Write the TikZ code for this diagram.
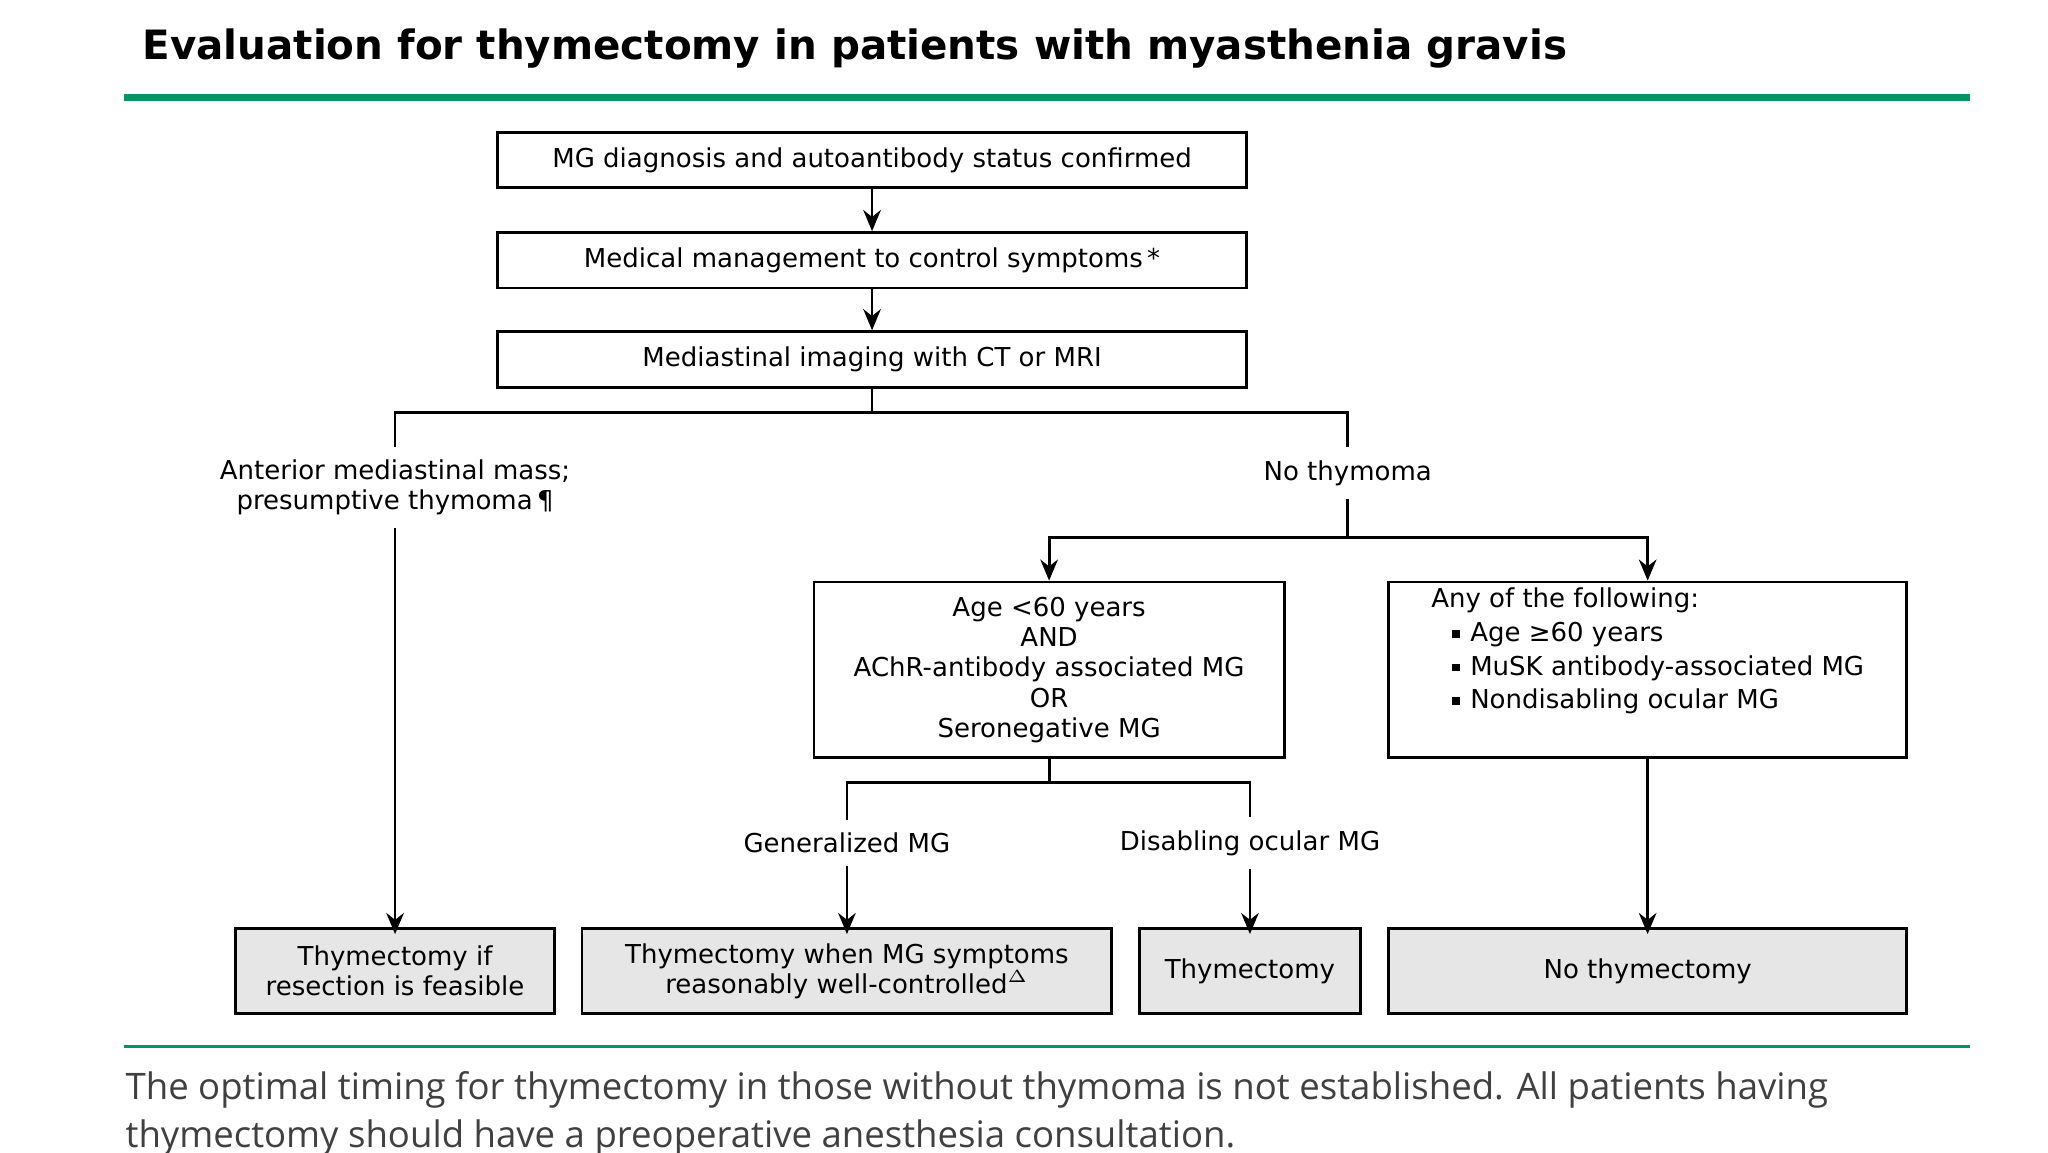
\documentclass[tikz,border=0pt]{standalone}
\usepackage{fontspec}
\setmainfont{DejaVu Sans}
\newfontfamily\footfont{Open Sans}
\usetikzlibrary{arrows.meta}
\definecolor{mggreen}{RGB}{0,150,100}
\definecolor{mggray}{RGB}{230,230,230}
\tikzset{
  box/.style   = {draw,thick,inner sep=0pt,align=center,font=\fontsize{7.4}{8.6}\selectfont},
  endbox/.style= {box,fill=mggray},
  lbl/.style   = {align=center,font=\fontsize{7.4}{8.6}\selectfont},
  flow/.style  = {thick,-{Stealth[length=6pt,width=5pt]}},
}
\begin{document}
\begin{tikzpicture}[x=0.01321cm,y=-0.01321cm,thick]
\useasboundingbox (0,0) rectangle (1550,872);

% title and rules
\node[anchor=west,font=\fontsize{11.5}{13}\selectfont\bfseries] (title) at (98,37) {Evaluation for thymectomy in patients with myasthenia gravis};
\draw[mggreen,line width=2pt] (94,74) -- (1491,74);
\draw[mggreen,line width=0.8pt] (94,792) -- (1491,792);

% top chain
\node[box,minimum width=567*0.01321cm,minimum height=42*0.01321cm] (diag) at (660,121) {MG diagnosis and autoantibody status confirmed};
\node[box,minimum width=567*0.01321cm,minimum height=42*0.01321cm] (medi) at (660,197) {Medical management to control symptoms\,*};
\node[box,minimum width=567*0.01321cm,minimum height=42*0.01321cm] (imag) at (660,272) {Mediastinal imaging with CT or MRI};
\draw[flow] (diag) -- (medi);
\draw[flow] (medi) -- (imag);

% first split
\node[lbl] (mass) at (299,369) {Anterior mediastinal mass;\\presumptive thymoma\,¶};
\node[lbl] (noth) at (1020,358) {No thymoma};
\draw (imag.south) -- (660,312) -| (mass.north);
\draw (660,312) -| (noth.north);

% second split
\node[box,minimum width=356*0.01321cm,minimum height=133*0.01321cm] (young) at (794,507)
  {Age <60 years\\AND\\AChR-antibody associated MG\\OR\\Seronegative MG};
\node[box,minimum width=392*0.01321cm,minimum height=133*0.01321cm,align=left] (older) at (1247,507)
  {\begin{tabular}{@{}l@{}}Any of the following:\\[1pt]
   \hspace{0.8em}\rule[0.15em]{0.3em}{0.3em}\hspace{0.4em}Age ≥60 years\\[1pt]
   \hspace{0.8em}\rule[0.15em]{0.3em}{0.3em}\hspace{0.4em}MuSK antibody-associated MG\\[1pt]
   \hspace{0.8em}\rule[0.15em]{0.3em}{0.3em}\hspace{0.4em}Nondisabling ocular MG\\[10pt]\end{tabular}};
\draw (noth.south) -- (1020,407);
\draw[flow] (1020,407) -| (young.north);
\draw[flow] (1020,407) -| (older.north);

% third split
\node[lbl] (gen) at (641,638) {Generalized MG};
\node[lbl] (dis) at (946,638) {Disabling ocular MG};
\draw (young.south) -- (794,592) -| (gen.north);
\draw (794,592) -| (dis.north);

% outcomes
\node[endbox,minimum width=241*0.01321cm,minimum height=64*0.01321cm] (resect) at (299,735) {Thymectomy if\\resection is feasible};
\node[endbox,minimum width=401*0.01321cm,minimum height=64*0.01321cm] (ctrl) at (641,735) {Thymectomy when MG symptoms\\reasonably well-controlled$^{\Delta}$};
\node[endbox,minimum width=167*0.01321cm,minimum height=64*0.01321cm] (thym) at (946,735) {Thymectomy};
\node[endbox,minimum width=392*0.01321cm,minimum height=64*0.01321cm] (none) at (1247,735) {No thymectomy};
\draw[flow] (mass.south) -- ([yshift=-5*0.01321cm]resect.north);
\draw[flow] (gen.south) -- ([yshift=-5*0.01321cm]ctrl.north);
\draw[flow] (dis.south) -- ([yshift=-5*0.01321cm]thym.north);
\draw[flow] (older.south) -- ([yshift=-5*0.01321cm]none.north);

% footer
\node[anchor=north west,align=left,inner sep=0pt,text=black!75,font=\footfont\fontsize{10.4}{13.6}\selectfont] (note) at (94,810)
  {The optimal timing for thymectomy in those without thymoma is not established. All patients having\\thymectomy should have a preoperative anesthesia consultation.};
\end{tikzpicture}
\end{document}
